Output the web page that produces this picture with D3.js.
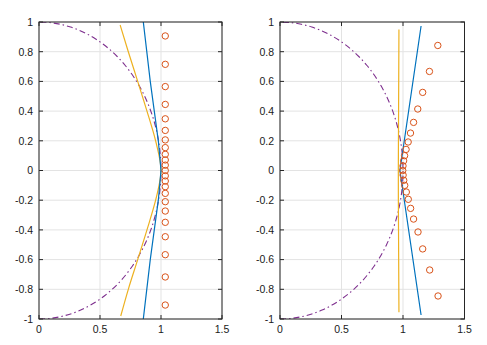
<!DOCTYPE html>
<html><head><meta charset="utf-8">
<script src="https://cdn.jsdelivr.net/npm/d3@7"></script>
<style>body{margin:0;background:#fff}svg{display:block}</style>
</head><body>
<script>
// ---- data ----
const xTicks = [0, 0.5, 1, 1.5];
const yTicks = [-1, -0.8, -0.6, -0.4, -0.2, 0, 0.2, 0.4, 0.6, 0.8, 1];

// unit-circle reference (dash-dot), sampled angles in degrees
const arcDeg = [-90,-85,-80,-75,-70,-65,-60,-55,-50,-45,-40,-35,-30,-25,-20,-15,-10,-5,0,5,10,15,20,25,30,35,40,45,50,55,60,65,70,75,80,85,90];

// left panel
const leftBlueY = [1, 0.6, 0.4, 0.2, 0, -0.2, -0.4, -0.6, -1];
const leftBlueX = [0.855, 0.912, 0.945, 0.978, 1.0, 0.978, 0.945, 0.912, 0.855];
const leftOrangeY = [0.98, 0.8, 0.6, 0.4, 0.2, 0.1, 0.05, 0, -0.05, -0.1, -0.2, -0.4, -0.6, -0.8, -0.98];
const leftOrangeX = [0.665, 0.732, 0.809, 0.885, 0.956, 0.984, 0.995, 1.0, 0.995, 0.984, 0.956, 0.885, 0.809, 0.732, 0.67];
const leftCircY = [0.906, 0.715, 0.565, 0.445, 0.348, 0.27, 0.206, 0.154, 0.109, 0.071, 0.036, 0,
  -0.036, -0.071, -0.109, -0.154, -0.21, -0.273, -0.349, -0.446, -0.567, -0.717, -0.906];
const leftCircX = leftCircY.map(() => 1.035);

// right panel
const rightBlueY = [0.973, 0, -0.973];
const rightBlueX = [1.147, 0.975, 1.147];
const rightOrangeY = [0.95, 0, -0.955];
const rightOrangeX = [0.967, 0.962, 0.967];
const rightCircY = [0.842, 0.667, 0.526, 0.414, 0.324, 0.252, 0.192, 0.142, 0.10, 0.065, 0.031, 0,
  -0.031, -0.066, -0.10, -0.145, -0.194, -0.255, -0.327, -0.414, -0.528, -0.67, -0.845];
const rightCircX = [1.283, 1.215, 1.16, 1.12, 1.086, 1.061, 1.042, 1.025, 1.013, 1.005, 1.0, 0.998,
  1.001, 1.006, 1.014, 1.027, 1.043, 1.062, 1.086, 1.122, 1.16, 1.217, 1.285];

// ---- drawing ----
const W = 487, H = 345;
const svg = d3.select("body").append("svg").attr("width", W).attr("height", H);

const C = {blue:"#0072BD", orange:"#EDB120", red:"#D95319", purple:"#7E2F8E"};

function panel(x0, x1, bx, by, ox, oy, cx, cy) {
  const top = 22, bottom = 319;
  const xs = d3.scaleLinear().domain([0, 1.5]).range([x0, x1]);
  const ys = d3.scaleLinear().domain([-1, 1]).range([bottom, top]);
  const g = svg.append("g");
  // grid
  g.selectAll(".gx").data(xTicks).join("line")
    .attr("x1", d => xs(d)).attr("x2", d => xs(d)).attr("y1", top).attr("y2", bottom)
    .attr("stroke", "#e3e3e3").attr("stroke-width", 1);
  g.selectAll(".gy").data(yTicks).join("line")
    .attr("y1", d => ys(d)).attr("y2", d => ys(d)).attr("x1", x0).attr("x2", x1)
    .attr("stroke", "#e3e3e3").attr("stroke-width", 1);

  const line = d3.line().x(d => xs(d[0])).y(d => ys(d[1]));
  const clip = "clip" + Math.round(x0);
  svg.append("clipPath").attr("id", clip).append("rect")
    .attr("x", x0).attr("y", top).attr("width", x1 - x0).attr("height", bottom - top);
  const pg = g.append("g").attr("clip-path", `url(#${clip})`);

  // unit circle dash-dot
  const arc = arcDeg.map(a => [Math.cos(a * Math.PI / 180), Math.sin(a * Math.PI / 180)]);
  pg.append("path").attr("d", d3.line().x(d => xs(d[0])).y(d => ys(d[1])).curve(d3.curveCatmullRom)(arc))
    .attr("fill", "none").attr("stroke", C.purple).attr("stroke-width", 1.1)
    .attr("stroke-dasharray", "6,3,1.5,3");

  pg.append("path").attr("d", d3.line().x(d => xs(d[0])).y(d => ys(d[1])).curve(d3.curveMonotoneY)(ox.map((v, i) => [v, oy[i]])))
    .attr("fill", "none").attr("stroke", C.orange).attr("stroke-width", 1.2);
  pg.append("path").attr("d", line(bx.map((v, i) => [v, by[i]])))
    .attr("fill", "none").attr("stroke", C.blue).attr("stroke-width", 1.2);

  pg.selectAll(".c").data(cx.map((v, i) => [v, cy[i]])).join("circle")
    .attr("cx", d => xs(d[0])).attr("cy", d => ys(d[1])).attr("r", 3.2)
    .attr("fill", "none").attr("stroke", C.red).attr("stroke-width", 1);

  // axes with inner ticks on all sides
  const tl = 4;
  const axG = g.append("g").attr("stroke", "#262626").attr("stroke-width", 1);
  xTicks.forEach(t => {
    axG.append("line").attr("x1", xs(t)).attr("x2", xs(t)).attr("y1", bottom).attr("y2", bottom - tl);
    axG.append("line").attr("x1", xs(t)).attr("x2", xs(t)).attr("y1", top).attr("y2", top + tl);
  });
  yTicks.forEach(t => {
    axG.append("line").attr("x1", x0).attr("x2", x0 + tl).attr("y1", ys(t)).attr("y2", ys(t));
    axG.append("line").attr("x1", x1).attr("x2", x1 - tl).attr("y1", ys(t)).attr("y2", ys(t));
  });
  g.append("rect").attr("x", x0).attr("y", top).attr("width", x1 - x0).attr("height", bottom - top)
    .attr("fill", "none").attr("stroke", "#262626").attr("stroke-width", 1);

  const fmt = d => String(d);
  g.selectAll(".xl").data(xTicks).join("text")
    .attr("x", d => xs(d)).attr("y", bottom + 14).attr("text-anchor", "middle")
    .attr("font-family", "Liberation Sans, Arial, sans-serif").attr("font-size", 10.5)
    .attr("fill", "#1a1a1a").text(fmt);
  g.selectAll(".yl").data(yTicks).join("text")
    .attr("x", x0 - 6).attr("y", d => ys(d) + 3.8).attr("text-anchor", "end")
    .attr("font-family", "Liberation Sans, Arial, sans-serif").attr("font-size", 10.5)
    .attr("fill", "#1a1a1a").text(fmt);
}

panel(39, 222, leftBlueX, leftBlueY, leftOrangeX, leftOrangeY, leftCircX, leftCircY);
panel(280, 464.5, rightBlueX, rightBlueY, rightOrangeX, rightOrangeY, rightCircX, rightCircY);
</script>
</body></html>
